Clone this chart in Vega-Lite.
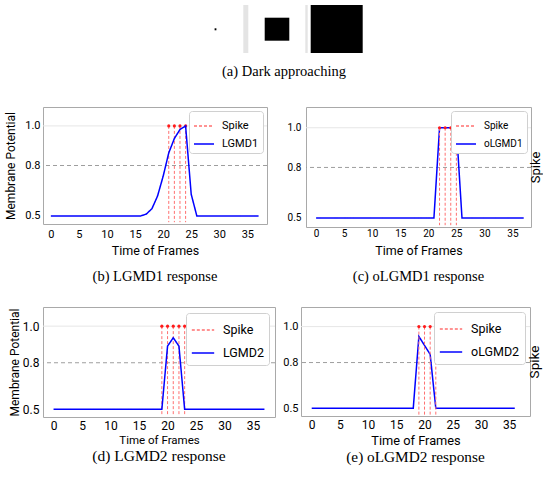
{
  "$schema": "https://vega.github.io/schema/vega-lite/v6.json",
  "background": "white",
  "padding": {"left": 3, "top": 5, "right": 0, "bottom": 0},
  "config": {
    "font": "Roboto",
    "view": {"stroke": "#a9a9a9"},
    "axis": {"grid": false, "domain": false, "ticks": false, "labelOverlap": false, "labelFlush": false, "minExtent": 0, "labelColor": "#000000", "titleColor": "#000000", "titleFontWeight": "normal", "labelFont": "Roboto", "titleFont": "Roboto"},
    "axisX": {"tickCount": 8},
    "legend": {"symbolType": "stroke", "fillColor": "#ffffff", "strokeColor": "#d0d0d0", "cornerRadius": 3, "labelColor": "#000000", "labelFont": "Roboto", "zindex": 1},
    "title": {"font": "Liberation Serif", "fontWeight": "normal", "color": "#000000", "fontSize": 14.5}
  },
  "datasets": {
    "stimulus": [
      {"frame": 1, "kind": "object", "x0": 28.6, "x1": 30.4, "y0": 23.3, "y1": 25.3},
      {"frame": 1, "kind": "divider", "x0": 57.3, "x1": 62.3, "y0": 0, "y1": 48},
      {"frame": 2, "kind": "object", "x0": 78.7, "x1": 103.3, "y0": 12.7, "y1": 35.7},
      {"frame": 2, "kind": "divider", "x0": 119.3, "x1": 121.7, "y0": 0, "y1": 48},
      {"frame": 3, "kind": "object", "x0": 124.7, "x1": 176.7, "y0": 0, "y1": 48}
    ],
    "spikes": [
      {"panel": "b", "series": "Spike", "frame": 21, "v": 1},
      {"panel": "b", "series": "Spike", "frame": 22, "v": 1},
      {"panel": "b", "series": "Spike", "frame": 23, "v": 1},
      {"panel": "b", "series": "Spike", "frame": 24, "v": 1},
      {"panel": "c", "series": "Spike", "frame": 22, "v": 1},
      {"panel": "c", "series": "Spike", "frame": 23, "v": 1},
      {"panel": "c", "series": "Spike", "frame": 24, "v": 1},
      {"panel": "c", "series": "Spike", "frame": 25, "v": 1},
      {"panel": "d", "series": "Spike", "frame": 19, "v": 1},
      {"panel": "d", "series": "Spike", "frame": 20, "v": 1},
      {"panel": "d", "series": "Spike", "frame": 21, "v": 1},
      {"panel": "d", "series": "Spike", "frame": 22, "v": 1},
      {"panel": "d", "series": "Spike", "frame": 23, "v": 1},
      {"panel": "e", "series": "Spike", "frame": 19, "v": 1},
      {"panel": "e", "series": "Spike", "frame": 20, "v": 1},
      {"panel": "e", "series": "Spike", "frame": 21, "v": 1},
      {"panel": "e", "series": "Spike", "frame": 22, "v": 1}
    ],
    "potential": [
      {"panel": "b", "series": "LGMD1", "frame": 0, "v": 0.5},
      {"panel": "b", "series": "LGMD1", "frame": 1, "v": 0.5},
      {"panel": "b", "series": "LGMD1", "frame": 2, "v": 0.5},
      {"panel": "b", "series": "LGMD1", "frame": 3, "v": 0.5},
      {"panel": "b", "series": "LGMD1", "frame": 4, "v": 0.5},
      {"panel": "b", "series": "LGMD1", "frame": 5, "v": 0.5},
      {"panel": "b", "series": "LGMD1", "frame": 6, "v": 0.5},
      {"panel": "b", "series": "LGMD1", "frame": 7, "v": 0.5},
      {"panel": "b", "series": "LGMD1", "frame": 8, "v": 0.5},
      {"panel": "b", "series": "LGMD1", "frame": 9, "v": 0.5},
      {"panel": "b", "series": "LGMD1", "frame": 10, "v": 0.5},
      {"panel": "b", "series": "LGMD1", "frame": 11, "v": 0.5},
      {"panel": "b", "series": "LGMD1", "frame": 12, "v": 0.5},
      {"panel": "b", "series": "LGMD1", "frame": 13, "v": 0.5},
      {"panel": "b", "series": "LGMD1", "frame": 14, "v": 0.5},
      {"panel": "b", "series": "LGMD1", "frame": 15, "v": 0.5},
      {"panel": "b", "series": "LGMD1", "frame": 16, "v": 0.5},
      {"panel": "b", "series": "LGMD1", "frame": 17, "v": 0.51},
      {"panel": "b", "series": "LGMD1", "frame": 18, "v": 0.54},
      {"panel": "b", "series": "LGMD1", "frame": 19, "v": 0.61},
      {"panel": "b", "series": "LGMD1", "frame": 20, "v": 0.72},
      {"panel": "b", "series": "LGMD1", "frame": 21, "v": 0.85},
      {"panel": "b", "series": "LGMD1", "frame": 22, "v": 0.93},
      {"panel": "b", "series": "LGMD1", "frame": 23, "v": 0.98},
      {"panel": "b", "series": "LGMD1", "frame": 24, "v": 1.0},
      {"panel": "b", "series": "LGMD1", "frame": 25, "v": 0.62},
      {"panel": "b", "series": "LGMD1", "frame": 26, "v": 0.5},
      {"panel": "b", "series": "LGMD1", "frame": 27, "v": 0.5},
      {"panel": "b", "series": "LGMD1", "frame": 28, "v": 0.5},
      {"panel": "b", "series": "LGMD1", "frame": 29, "v": 0.5},
      {"panel": "b", "series": "LGMD1", "frame": 30, "v": 0.5},
      {"panel": "b", "series": "LGMD1", "frame": 31, "v": 0.5},
      {"panel": "b", "series": "LGMD1", "frame": 32, "v": 0.5},
      {"panel": "b", "series": "LGMD1", "frame": 33, "v": 0.5},
      {"panel": "b", "series": "LGMD1", "frame": 34, "v": 0.5},
      {"panel": "b", "series": "LGMD1", "frame": 35, "v": 0.5},
      {"panel": "b", "series": "LGMD1", "frame": 36, "v": 0.5},
      {"panel": "b", "series": "LGMD1", "frame": 37, "v": 0.5},
      {"panel": "c", "series": "oLGMD1", "frame": 0, "v": 0.5},
      {"panel": "c", "series": "oLGMD1", "frame": 1, "v": 0.5},
      {"panel": "c", "series": "oLGMD1", "frame": 2, "v": 0.5},
      {"panel": "c", "series": "oLGMD1", "frame": 3, "v": 0.5},
      {"panel": "c", "series": "oLGMD1", "frame": 4, "v": 0.5},
      {"panel": "c", "series": "oLGMD1", "frame": 5, "v": 0.5},
      {"panel": "c", "series": "oLGMD1", "frame": 6, "v": 0.5},
      {"panel": "c", "series": "oLGMD1", "frame": 7, "v": 0.5},
      {"panel": "c", "series": "oLGMD1", "frame": 8, "v": 0.5},
      {"panel": "c", "series": "oLGMD1", "frame": 9, "v": 0.5},
      {"panel": "c", "series": "oLGMD1", "frame": 10, "v": 0.5},
      {"panel": "c", "series": "oLGMD1", "frame": 11, "v": 0.5},
      {"panel": "c", "series": "oLGMD1", "frame": 12, "v": 0.5},
      {"panel": "c", "series": "oLGMD1", "frame": 13, "v": 0.5},
      {"panel": "c", "series": "oLGMD1", "frame": 14, "v": 0.5},
      {"panel": "c", "series": "oLGMD1", "frame": 15, "v": 0.5},
      {"panel": "c", "series": "oLGMD1", "frame": 16, "v": 0.5},
      {"panel": "c", "series": "oLGMD1", "frame": 17, "v": 0.5},
      {"panel": "c", "series": "oLGMD1", "frame": 18, "v": 0.5},
      {"panel": "c", "series": "oLGMD1", "frame": 19, "v": 0.5},
      {"panel": "c", "series": "oLGMD1", "frame": 20, "v": 0.5},
      {"panel": "c", "series": "oLGMD1", "frame": 21, "v": 0.5},
      {"panel": "c", "series": "oLGMD1", "frame": 22, "v": 1.0},
      {"panel": "c", "series": "oLGMD1", "frame": 23, "v": 1.0},
      {"panel": "c", "series": "oLGMD1", "frame": 24, "v": 1.0},
      {"panel": "c", "series": "oLGMD1", "frame": 25, "v": 1.0},
      {"panel": "c", "series": "oLGMD1", "frame": 26, "v": 0.5},
      {"panel": "c", "series": "oLGMD1", "frame": 27, "v": 0.5},
      {"panel": "c", "series": "oLGMD1", "frame": 28, "v": 0.5},
      {"panel": "c", "series": "oLGMD1", "frame": 29, "v": 0.5},
      {"panel": "c", "series": "oLGMD1", "frame": 30, "v": 0.5},
      {"panel": "c", "series": "oLGMD1", "frame": 31, "v": 0.5},
      {"panel": "c", "series": "oLGMD1", "frame": 32, "v": 0.5},
      {"panel": "c", "series": "oLGMD1", "frame": 33, "v": 0.5},
      {"panel": "c", "series": "oLGMD1", "frame": 34, "v": 0.5},
      {"panel": "c", "series": "oLGMD1", "frame": 35, "v": 0.5},
      {"panel": "c", "series": "oLGMD1", "frame": 36, "v": 0.5},
      {"panel": "c", "series": "oLGMD1", "frame": 37, "v": 0.5},
      {"panel": "d", "series": "LGMD2", "frame": 0, "v": 0.5},
      {"panel": "d", "series": "LGMD2", "frame": 1, "v": 0.5},
      {"panel": "d", "series": "LGMD2", "frame": 2, "v": 0.5},
      {"panel": "d", "series": "LGMD2", "frame": 3, "v": 0.5},
      {"panel": "d", "series": "LGMD2", "frame": 4, "v": 0.5},
      {"panel": "d", "series": "LGMD2", "frame": 5, "v": 0.5},
      {"panel": "d", "series": "LGMD2", "frame": 6, "v": 0.5},
      {"panel": "d", "series": "LGMD2", "frame": 7, "v": 0.5},
      {"panel": "d", "series": "LGMD2", "frame": 8, "v": 0.5},
      {"panel": "d", "series": "LGMD2", "frame": 9, "v": 0.5},
      {"panel": "d", "series": "LGMD2", "frame": 10, "v": 0.5},
      {"panel": "d", "series": "LGMD2", "frame": 11, "v": 0.5},
      {"panel": "d", "series": "LGMD2", "frame": 12, "v": 0.5},
      {"panel": "d", "series": "LGMD2", "frame": 13, "v": 0.5},
      {"panel": "d", "series": "LGMD2", "frame": 14, "v": 0.5},
      {"panel": "d", "series": "LGMD2", "frame": 15, "v": 0.5},
      {"panel": "d", "series": "LGMD2", "frame": 16, "v": 0.5},
      {"panel": "d", "series": "LGMD2", "frame": 17, "v": 0.5},
      {"panel": "d", "series": "LGMD2", "frame": 18, "v": 0.5},
      {"panel": "d", "series": "LGMD2", "frame": 19, "v": 0.5},
      {"panel": "d", "series": "LGMD2", "frame": 20, "v": 0.88},
      {"panel": "d", "series": "LGMD2", "frame": 21, "v": 0.93},
      {"panel": "d", "series": "LGMD2", "frame": 22, "v": 0.88},
      {"panel": "d", "series": "LGMD2", "frame": 23, "v": 0.5},
      {"panel": "d", "series": "LGMD2", "frame": 24, "v": 0.5},
      {"panel": "d", "series": "LGMD2", "frame": 25, "v": 0.5},
      {"panel": "d", "series": "LGMD2", "frame": 26, "v": 0.5},
      {"panel": "d", "series": "LGMD2", "frame": 27, "v": 0.5},
      {"panel": "d", "series": "LGMD2", "frame": 28, "v": 0.5},
      {"panel": "d", "series": "LGMD2", "frame": 29, "v": 0.5},
      {"panel": "d", "series": "LGMD2", "frame": 30, "v": 0.5},
      {"panel": "d", "series": "LGMD2", "frame": 31, "v": 0.5},
      {"panel": "d", "series": "LGMD2", "frame": 32, "v": 0.5},
      {"panel": "d", "series": "LGMD2", "frame": 33, "v": 0.5},
      {"panel": "d", "series": "LGMD2", "frame": 34, "v": 0.5},
      {"panel": "d", "series": "LGMD2", "frame": 35, "v": 0.5},
      {"panel": "d", "series": "LGMD2", "frame": 36, "v": 0.5},
      {"panel": "d", "series": "LGMD2", "frame": 37, "v": 0.5},
      {"panel": "e", "series": "oLGMD2", "frame": 0, "v": 0.5},
      {"panel": "e", "series": "oLGMD2", "frame": 1, "v": 0.5},
      {"panel": "e", "series": "oLGMD2", "frame": 2, "v": 0.5},
      {"panel": "e", "series": "oLGMD2", "frame": 3, "v": 0.5},
      {"panel": "e", "series": "oLGMD2", "frame": 4, "v": 0.5},
      {"panel": "e", "series": "oLGMD2", "frame": 5, "v": 0.5},
      {"panel": "e", "series": "oLGMD2", "frame": 6, "v": 0.5},
      {"panel": "e", "series": "oLGMD2", "frame": 7, "v": 0.5},
      {"panel": "e", "series": "oLGMD2", "frame": 8, "v": 0.5},
      {"panel": "e", "series": "oLGMD2", "frame": 9, "v": 0.5},
      {"panel": "e", "series": "oLGMD2", "frame": 10, "v": 0.5},
      {"panel": "e", "series": "oLGMD2", "frame": 11, "v": 0.5},
      {"panel": "e", "series": "oLGMD2", "frame": 12, "v": 0.5},
      {"panel": "e", "series": "oLGMD2", "frame": 13, "v": 0.5},
      {"panel": "e", "series": "oLGMD2", "frame": 14, "v": 0.5},
      {"panel": "e", "series": "oLGMD2", "frame": 15, "v": 0.5},
      {"panel": "e", "series": "oLGMD2", "frame": 16, "v": 0.5},
      {"panel": "e", "series": "oLGMD2", "frame": 17, "v": 0.5},
      {"panel": "e", "series": "oLGMD2", "frame": 18, "v": 0.5},
      {"panel": "e", "series": "oLGMD2", "frame": 19, "v": 0.94},
      {"panel": "e", "series": "oLGMD2", "frame": 20, "v": 0.885},
      {"panel": "e", "series": "oLGMD2", "frame": 21, "v": 0.83},
      {"panel": "e", "series": "oLGMD2", "frame": 22, "v": 0.5},
      {"panel": "e", "series": "oLGMD2", "frame": 23, "v": 0.5},
      {"panel": "e", "series": "oLGMD2", "frame": 24, "v": 0.5},
      {"panel": "e", "series": "oLGMD2", "frame": 25, "v": 0.5},
      {"panel": "e", "series": "oLGMD2", "frame": 26, "v": 0.5},
      {"panel": "e", "series": "oLGMD2", "frame": 27, "v": 0.5},
      {"panel": "e", "series": "oLGMD2", "frame": 28, "v": 0.5},
      {"panel": "e", "series": "oLGMD2", "frame": 29, "v": 0.5},
      {"panel": "e", "series": "oLGMD2", "frame": 30, "v": 0.5},
      {"panel": "e", "series": "oLGMD2", "frame": 31, "v": 0.5},
      {"panel": "e", "series": "oLGMD2", "frame": 32, "v": 0.5},
      {"panel": "e", "series": "oLGMD2", "frame": 33, "v": 0.5},
      {"panel": "e", "series": "oLGMD2", "frame": 34, "v": 0.5},
      {"panel": "e", "series": "oLGMD2", "frame": 35, "v": 0.5},
      {"panel": "e", "series": "oLGMD2", "frame": 36, "v": 0.5}
    ]
  },
  "spacing": 27,
  "resolve": {
    "scale": {"x": "independent", "y": "independent", "color": "independent", "strokeDash": "independent"},
    "legend": {"color": "independent", "strokeDash": "independent"}
  },
  "vconcat": [
    {
      "width": 460,
      "height": 48,
      "view": {"stroke": null},
      "data": {"name": "stimulus"},
      "title": {"text": "(a) Dark approaching", "orient": "bottom", "offset": 12, "dx": 11},
      "mark": {"type": "rect"},
      "encoding": {
        "x": {"field": "x0", "type": "quantitative", "scale": {"domain": [-143, 317], "nice": false, "zero": false}, "axis": null},
        "x2": {"field": "x1"},
        "y": {"field": "y0", "type": "quantitative", "scale": {"domain": [0, 48], "reverse": true, "nice": false}, "axis": null},
        "y2": {"field": "y1"},
        "color": {"field": "kind", "type": "nominal", "scale": {"domain": ["object", "divider"], "range": ["#000000", "#e4e4e4"]}, "legend": null}
      }
    },
    {
      "spacing": 22,
      "resolve": {
        "scale": {"x": "independent", "y": "independent", "color": "independent", "strokeDash": "independent"},
        "legend": {"color": "independent", "strokeDash": "independent"}
      },
      "vconcat": [
        {
          "spacing": 18,
          "resolve": {
            "scale": {"x": "independent", "y": "independent", "color": "independent", "strokeDash": "independent"},
            "legend": {"color": "independent", "strokeDash": "independent"}
          },
          "hconcat": [
            {
              "width": 224,
              "height": 117,
              "title": {"text": "(b) LGMD1 response", "orient": "bottom", "offset": 13},
              "layer": [
                {
                  "data": {"values": [{}]},
                  "mark": {"type": "rule", "color": "#e6e6e6", "strokeWidth": 1},
                  "encoding": {"y": {"datum": 1}}
                },
                {
                  "data": {"values": [{}]},
                  "mark": {"type": "rule", "color": "#9e9e9e", "strokeDash": [4, 3], "strokeWidth": 1},
                  "encoding": {"y": {"datum": 0.78}}
                },
                {
                  "data": {"name": "spikes"},
                  "transform": [{"filter": "datum.panel == 'b'"}],
                  "mark": {"type": "rule", "strokeWidth": 1},
                  "encoding": {
                    "x": {"field": "frame", "type": "quantitative"},
                    "y": {"field": "v", "type": "quantitative"},
                    "y2": {"datum": 0.465},
                    "color": {"field": "series", "type": "nominal"},
                    "strokeDash": {"field": "series", "type": "nominal"}
                  }
                },
                {
                  "data": {"name": "spikes"},
                  "transform": [{"filter": "datum.panel == 'b'"}],
                  "mark": {"type": "point", "filled": true, "color": "#ff1a1a", "size": 10, "opacity": 1},
                  "encoding": {
                    "x": {"field": "frame", "type": "quantitative"},
                    "y": {"field": "v", "type": "quantitative"}
                  }
                },
                {
                  "data": {"name": "potential"},
                  "transform": [{"filter": "datum.panel == 'b'"}],
                  "mark": {"type": "line", "strokeWidth": 1.5},
                  "encoding": {
                    "x": {"field": "frame", "type": "quantitative", "scale": {"domain": [-1.4, 38.5], "nice": false, "zero": false},
                      "axis": {"values": [0, 5, 10, 15, 20, 25, 30, 35], "tickCount": 8, "title": "Time of Frames", "labelFontSize": 11, "labelPadding": 4, "titleFontSize": 12.5, "titlePadding": 5}},
                    "y": {"field": "v", "type": "quantitative", "scale": {"domain": [0.455, 1.105], "nice": false, "zero": false},
                      "axis": {"values": [0.5, 0.78, 1], "labelExpr": "datum.value == 0.78 ? '0.8' : format(datum.value, '.1f')", "title": "Membrane Potential", "labelFontSize": 11, "labelPadding": 3, "titleFontSize": 12, "titlePadding": 7.5}},
                    "color": {"field": "series", "type": "nominal", "scale": {"domain": ["Spike", "LGMD1"], "range": ["#ff7070", "#0000ff"]},
                      "legend": {"title": null, "orient": "top-right", "offset": 4, "labelFontSize": 11, "padding": 4, "rowPadding": 2, "symbolSize": 400, "symbolStrokeWidth": 1.5, "labelOffset": 7}},
                    "strokeDash": {"field": "series", "type": "nominal", "scale": {"domain": ["Spike", "LGMD1"], "range": [[3, 2], [1, 0]]},
                      "legend": {"title": null, "orient": "top-right", "offset": 4, "labelFontSize": 11, "padding": 4, "rowPadding": 2, "symbolSize": 400, "symbolStrokeWidth": 1.5, "labelOffset": 7}}
                  }
                }
              ]
            },
            {
              "width": 225,
              "height": 120,
              "title": {"text": "(c) oLGMD1 response", "orient": "bottom", "offset": 13},
              "resolve": {"scale": {"y": "independent"}},
              "layer": [
                {
                  "layer": [
                    {
                      "data": {"values": [{}]},
                      "mark": {"type": "rule", "color": "#e6e6e6", "strokeWidth": 1},
                      "encoding": {"y": {"datum": 1}}
                    },
                    {
                      "data": {"values": [{}]},
                      "mark": {"type": "rule", "color": "#9e9e9e", "strokeDash": [4, 3], "strokeWidth": 1},
                      "encoding": {"y": {"datum": 0.78}}
                    },
                    {
                      "data": {"name": "potential"},
                      "transform": [{"filter": "datum.panel == 'c'"}],
                      "mark": {"type": "line", "strokeWidth": 1.5},
                      "encoding": {
                        "x": {"field": "frame", "type": "quantitative", "scale": {"domain": [-1.8, 38.3], "nice": false, "zero": false},
                          "axis": {"values": [0, 5, 10, 15, 20, 25, 30, 35], "tickCount": 8, "title": "Time of Frames", "labelFontSize": 10, "labelPadding": 1, "titleFontSize": 12.5, "titlePadding": 6}},
                        "y": {"field": "v", "type": "quantitative", "scale": {"domain": [0.45, 1.115], "nice": false, "zero": false},
                          "axis": {"values": [0.5, 0.78, 1], "labelExpr": "datum.value == 0.78 ? '0.8' : format(datum.value, '.1f')", "title": null, "labelFontSize": 10, "labelPadding": 5}},
                        "color": {"field": "series", "type": "nominal", "scale": {"domain": ["Spike", "oLGMD1"], "range": ["#ff7070", "#0000ff"]},
                          "legend": {"title": null, "orient": "top-right", "offset": 4, "labelFontSize": 10, "padding": 4, "rowPadding": 2, "symbolSize": 400, "symbolStrokeWidth": 1.5, "labelOffset": 7}},
                        "strokeDash": {"field": "series", "type": "nominal", "scale": {"domain": ["Spike", "oLGMD1"], "range": [[3, 2], [1, 0]]},
                          "legend": {"title": null, "orient": "top-right", "offset": 4, "labelFontSize": 10, "padding": 4, "rowPadding": 2, "symbolSize": 400, "symbolStrokeWidth": 1.5, "labelOffset": 7}}
                      }
                    }
                  ]
                },
                {
                  "data": {"name": "spikes"},
                  "transform": [{"filter": "datum.panel == 'c'"}],
                  "layer": [
                    {
                      "mark": {"type": "rule", "strokeWidth": 1},
                      "encoding": {
                        "x": {"field": "frame", "type": "quantitative"},
                        "y": {"field": "v", "type": "quantitative", "scale": {"domain": [0.45, 1.115], "nice": false, "zero": false},
                          "axis": {"orient": "right", "title": "Spike", "labels": false, "titleFontSize": 13, "titleAngle": 270, "titleBaseline": "top", "titlePadding": -2}},
                        "y2": {"datum": 0.46},
                        "color": {"field": "series", "type": "nominal"},
                        "strokeDash": {"field": "series", "type": "nominal"}
                      }
                    },
                    {
                      "mark": {"type": "point", "filled": true, "color": "#ff1a1a", "size": 10, "opacity": 1},
                      "encoding": {
                        "x": {"field": "frame", "type": "quantitative"},
                        "y": {"field": "v", "type": "quantitative"}
                      }
                    }
                  ]
                }
              ]
            }
          ]
        },
        {
          "spacing": 5,
          "resolve": {
            "scale": {"x": "independent", "y": "independent", "color": "independent", "strokeDash": "independent"},
            "legend": {"color": "independent", "strokeDash": "independent"}
          },
          "hconcat": [
            {
              "width": 232,
              "height": 110,
              "title": {"text": "(d) LGMD2 response", "orient": "bottom", "offset": 3, "fontSize": 15.5},
              "layer": [
                {
                  "data": {"values": [{}]},
                  "mark": {"type": "rule", "color": "#e6e6e6", "strokeWidth": 1},
                  "encoding": {"y": {"datum": 1}}
                },
                {
                  "data": {"values": [{}]},
                  "mark": {"type": "rule", "color": "#9e9e9e", "strokeDash": [4, 3], "strokeWidth": 1.2},
                  "encoding": {"y": {"datum": 0.78}}
                },
                {
                  "data": {"name": "spikes"},
                  "transform": [{"filter": "datum.panel == 'd'"}],
                  "mark": {"type": "rule", "strokeWidth": 1},
                  "encoding": {
                    "x": {"field": "frame", "type": "quantitative"},
                    "y": {"field": "v", "type": "quantitative"},
                    "y2": {"datum": 0.462},
                    "color": {"field": "series", "type": "nominal"},
                    "strokeDash": {"field": "series", "type": "nominal"}
                  }
                },
                {
                  "data": {"name": "spikes"},
                  "transform": [{"filter": "datum.panel == 'd'"}],
                  "mark": {"type": "point", "filled": true, "color": "#ff1a1a", "size": 10, "opacity": 1},
                  "encoding": {
                    "x": {"field": "frame", "type": "quantitative"},
                    "y": {"field": "v", "type": "quantitative"}
                  }
                },
                {
                  "data": {"name": "potential"},
                  "transform": [{"filter": "datum.panel == 'd'"}],
                  "mark": {"type": "line", "strokeWidth": 1.5},
                  "encoding": {
                    "x": {"field": "frame", "type": "quantitative", "scale": {"domain": [-1.85, 38.85], "nice": false, "zero": false},
                      "axis": {"values": [0, 5, 10, 15, 20, 25, 30, 35], "tickCount": 8, "title": "Time of Frames", "labelFontSize": 12, "labelPadding": 3.5, "titleFontSize": 11.5, "titlePadding": 3}},
                    "y": {"field": "v", "type": "quantitative", "scale": {"domain": [0.454, 1.115], "nice": false, "zero": false},
                      "axis": {"values": [0.5, 0.78, 1], "labelExpr": "datum.value == 0.78 ? '0.8' : format(datum.value, '.1f')", "title": "Membrane Potential", "labelFontSize": 12, "labelPadding": 4, "titleFontSize": 12, "titlePadding": 1}},
                    "color": {"field": "series", "type": "nominal", "scale": {"domain": ["Spike", "LGMD2"], "range": ["#ff7070", "#0000ff"]},
                      "legend": {"title": null, "orient": "top-right", "offset": 6, "labelFontSize": 12.5, "padding": 5, "rowPadding": 4, "symbolSize": 500, "symbolStrokeWidth": 1.5, "labelOffset": 8}},
                    "strokeDash": {"field": "series", "type": "nominal", "scale": {"domain": ["Spike", "LGMD2"], "range": [[3, 2], [1, 0]]},
                      "legend": {"title": null, "orient": "top-right", "offset": 6, "labelFontSize": 12.5, "padding": 5, "rowPadding": 4, "symbolSize": 500, "symbolStrokeWidth": 1.5, "labelOffset": 8}}
                  }
                }
              ]
            },
            {
              "width": 229,
              "height": 109,
              "title": {"text": "(e) oLGMD2 response", "orient": "bottom", "offset": 3, "fontSize": 15.3},
              "resolve": {"scale": {"y": "independent"}},
              "layer": [
                {
                  "layer": [
                    {
                      "data": {"values": [{}]},
                      "mark": {"type": "rule", "color": "#e6e6e6", "strokeWidth": 1},
                      "encoding": {"y": {"datum": 1}}
                    },
                    {
                      "data": {"values": [{}]},
                      "mark": {"type": "rule", "color": "#9e9e9e", "strokeDash": [4, 3], "strokeWidth": 1},
                      "encoding": {"y": {"datum": 0.78}}
                    },
                    {
                      "data": {"name": "potential"},
                      "transform": [{"filter": "datum.panel == 'e'"}],
                      "mark": {"type": "line", "strokeWidth": 1.5},
                      "encoding": {
                        "x": {"field": "frame", "type": "quantitative", "scale": {"domain": [-1.9, 38.7], "nice": false, "zero": false},
                          "axis": {"values": [0, 5, 10, 15, 20, 25, 30, 35], "tickCount": 8, "title": "Time of Frames", "labelFontSize": 12, "labelPadding": 3, "titleFontSize": 12.8, "titlePadding": 4}},
                        "y": {"field": "v", "type": "quantitative", "scale": {"domain": [0.453, 1.12], "nice": false, "zero": false},
                          "axis": {"values": [0.5, 0.78, 1], "labelExpr": "datum.value == 0.78 ? '0.8' : format(datum.value, '.1f')", "title": null, "labelFontSize": 11, "labelPadding": 3}},
                        "color": {"field": "series", "type": "nominal", "scale": {"domain": ["Spike", "oLGMD2"], "range": ["#ff7070", "#0000ff"]},
                          "legend": {"title": null, "orient": "top-right", "offset": 5, "labelFontSize": 12.5, "padding": 5, "rowPadding": 4, "symbolSize": 500, "symbolStrokeWidth": 1.5, "labelOffset": 8}},
                        "strokeDash": {"field": "series", "type": "nominal", "scale": {"domain": ["Spike", "oLGMD2"], "range": [[3, 2], [1, 0]]},
                          "legend": {"title": null, "orient": "top-right", "offset": 5, "labelFontSize": 12.5, "padding": 5, "rowPadding": 4, "symbolSize": 500, "symbolStrokeWidth": 1.5, "labelOffset": 8}}
                      }
                    }
                  ]
                },
                {
                  "data": {"name": "spikes"},
                  "transform": [{"filter": "datum.panel == 'e'"}],
                  "layer": [
                    {
                      "mark": {"type": "rule", "strokeWidth": 1},
                      "encoding": {
                        "x": {"field": "frame", "type": "quantitative"},
                        "y": {"field": "v", "type": "quantitative", "scale": {"domain": [0.453, 1.12], "nice": false, "zero": false},
                          "axis": {"orient": "right", "title": "Spike", "labels": false, "titleFontSize": 13.5, "titleAngle": 270, "titleBaseline": "top", "titlePadding": -3}},
                        "y2": {"datum": 0.46},
                        "color": {"field": "series", "type": "nominal"},
                        "strokeDash": {"field": "series", "type": "nominal"}
                      }
                    },
                    {
                      "mark": {"type": "point", "filled": true, "color": "#ff1a1a", "size": 10, "opacity": 1},
                      "encoding": {
                        "x": {"field": "frame", "type": "quantitative"},
                        "y": {"field": "v", "type": "quantitative"}
                      }
                    }
                  ]
                }
              ]
            }
          ]
        }
      ]
    }
  ]
}
